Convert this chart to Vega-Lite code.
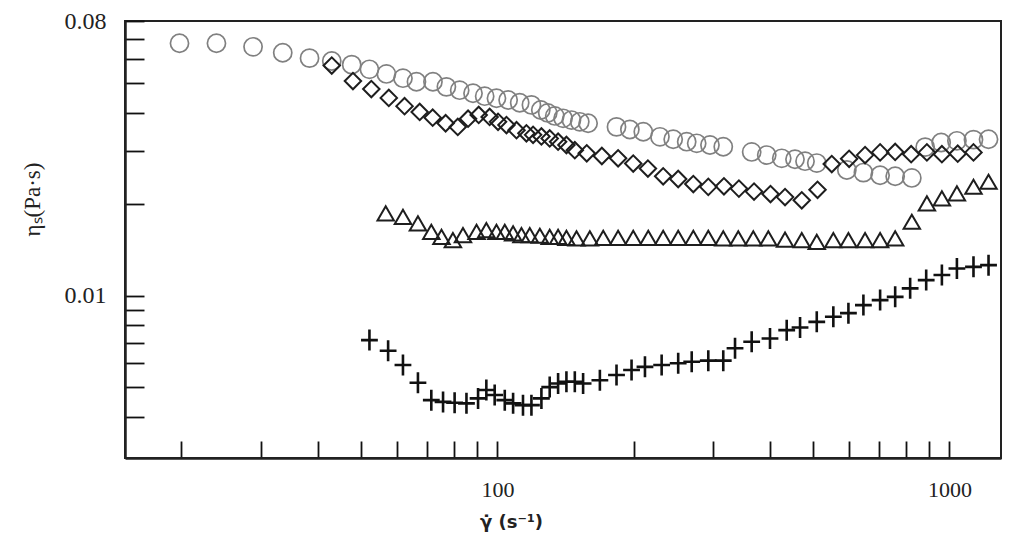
{
  "$schema": "https://vega.github.io/schema/vega-lite/v6.json",
  "width": 876,
  "height": 437,
  "autosize": {"type": "none"},
  "padding": {"left": 125, "top": 21, "right": 17, "bottom": 91},
  "background": "white",
  "config": {
    "view": {"stroke": "#222", "strokeWidth": 2},
    "axis": {"grid": false, "domainColor": "#222", "domainWidth": 2.5, "tickColor": "#111", "tickWidth": 1.8, "labelColor": "#222", "titleColor": "#222", "labelOverlap": false, "labelFlush": false}
  },
  "datasets": {
    "circles": [
      {"rate": 19.8, "eta": 0.0676}, {"rate": 23.9, "eta": 0.0676}, {"rate": 28.8, "eta": 0.0658}, {"rate": 33.5, "eta": 0.0629},
      {"rate": 38.4, "eta": 0.0604}, {"rate": 43.0, "eta": 0.0591}, {"rate": 47.6, "eta": 0.0575}, {"rate": 52.1, "eta": 0.0555},
      {"rate": 56.8, "eta": 0.0536}, {"rate": 61.8, "eta": 0.0519}, {"rate": 66.2, "eta": 0.0505}, {"rate": 72.0, "eta": 0.0505},
      {"rate": 77.1, "eta": 0.0486}, {"rate": 82.5, "eta": 0.0474}, {"rate": 88.3, "eta": 0.0463}, {"rate": 93.7, "eta": 0.0453},
      {"rate": 99.5, "eta": 0.0446}, {"rate": 105.6, "eta": 0.0440}, {"rate": 112.0, "eta": 0.0431}, {"rate": 118.9, "eta": 0.0424},
      {"rate": 124.7, "eta": 0.0408}, {"rate": 129.2, "eta": 0.0399}, {"rate": 133.9, "eta": 0.0390}, {"rate": 139.7, "eta": 0.0383},
      {"rate": 145.8, "eta": 0.0378}, {"rate": 152.1, "eta": 0.0373}, {"rate": 158.7, "eta": 0.0369}, {"rate": 183.4, "eta": 0.0359},
      {"rate": 196.3, "eta": 0.0352}, {"rate": 210.2, "eta": 0.0346}, {"rate": 228.8, "eta": 0.0333}, {"rate": 244.8, "eta": 0.0327},
      {"rate": 262.2, "eta": 0.0321}, {"rate": 275.9, "eta": 0.0317}, {"rate": 295.2, "eta": 0.0313}, {"rate": 315.9, "eta": 0.0309},
      {"rate": 365.1, "eta": 0.0297}, {"rate": 394.2, "eta": 0.0290}, {"rate": 425.5, "eta": 0.0283}, {"rate": 455.2, "eta": 0.0281},
      {"rate": 479.1, "eta": 0.0277}, {"rate": 508.6, "eta": 0.0273}, {"rate": 592.8, "eta": 0.0259}, {"rate": 645.0, "eta": 0.0254},
      {"rate": 702.3, "eta": 0.0249}, {"rate": 758.3, "eta": 0.0247}, {"rate": 825.4, "eta": 0.0244}, {"rate": 883.5, "eta": 0.0308},
      {"rate": 958.5, "eta": 0.0319}, {"rate": 1038.5, "eta": 0.0323}, {"rate": 1130, "eta": 0.0326}, {"rate": 1220, "eta": 0.0327}
    ],
    "diamonds": [
      {"rate": 43.0, "eta": 0.0571}, {"rate": 47.9, "eta": 0.0508}, {"rate": 52.6, "eta": 0.0478}, {"rate": 57.5, "eta": 0.0447},
      {"rate": 62.3, "eta": 0.0420}, {"rate": 67.3, "eta": 0.0402}, {"rate": 71.9, "eta": 0.0385}, {"rate": 76.8, "eta": 0.0369},
      {"rate": 81.7, "eta": 0.0359}, {"rate": 86.1, "eta": 0.0382}, {"rate": 90.9, "eta": 0.0393}, {"rate": 96.1, "eta": 0.0387},
      {"rate": 100.3, "eta": 0.0373}, {"rate": 104.7, "eta": 0.0364}, {"rate": 110.2, "eta": 0.0350}, {"rate": 115.9, "eta": 0.0342},
      {"rate": 119.9, "eta": 0.0338}, {"rate": 125.1, "eta": 0.0334}, {"rate": 130.5, "eta": 0.0329}, {"rate": 136.2, "eta": 0.0321},
      {"rate": 142.1, "eta": 0.0313}, {"rate": 148.3, "eta": 0.0301}, {"rate": 157.6, "eta": 0.0294}, {"rate": 170.2, "eta": 0.0288},
      {"rate": 184.9, "eta": 0.0283}, {"rate": 199.7, "eta": 0.0272}, {"rate": 215.2, "eta": 0.0262}, {"rate": 232.6, "eta": 0.0247},
      {"rate": 251.1, "eta": 0.0242}, {"rate": 271.2, "eta": 0.0233}, {"rate": 292.7, "eta": 0.0228}, {"rate": 317.0, "eta": 0.0229},
      {"rate": 342.1, "eta": 0.0225}, {"rate": 369.5, "eta": 0.0220}, {"rate": 401.8, "eta": 0.0216}, {"rate": 432.7, "eta": 0.0211},
      {"rate": 471.2, "eta": 0.0206}, {"rate": 510.6, "eta": 0.0223}, {"rate": 549.0, "eta": 0.0271}, {"rate": 599.8, "eta": 0.0282},
      {"rate": 650.5, "eta": 0.0290}, {"rate": 702.3, "eta": 0.0296}, {"rate": 758.3, "eta": 0.0297}, {"rate": 822.6, "eta": 0.0292},
      {"rate": 891.3, "eta": 0.0296}, {"rate": 962.0, "eta": 0.0292}, {"rate": 1042.8, "eta": 0.0293}, {"rate": 1130, "eta": 0.0296}
    ],
    "triangles": [
      {"rate": 56.6, "eta": 0.01866}, {"rate": 61.8, "eta": 0.01818}, {"rate": 66.7, "eta": 0.01730}, {"rate": 71.4, "eta": 0.01623},
      {"rate": 75.2, "eta": 0.01563}, {"rate": 79.7, "eta": 0.01524}, {"rate": 83.9, "eta": 0.01583}, {"rate": 89.9, "eta": 0.01623},
      {"rate": 94.5, "eta": 0.01644}, {"rate": 99.5, "eta": 0.01623}, {"rate": 103.8, "eta": 0.01623}, {"rate": 108.3, "eta": 0.01604},
      {"rate": 113.0, "eta": 0.01583}, {"rate": 117.9, "eta": 0.01583}, {"rate": 124.1, "eta": 0.01575}, {"rate": 130.5, "eta": 0.01563},
      {"rate": 136.2, "eta": 0.01563}, {"rate": 142.1, "eta": 0.01551}, {"rate": 149.6, "eta": 0.01544}, {"rate": 160.1, "eta": 0.01544},
      {"rate": 171.4, "eta": 0.01551}, {"rate": 184.9, "eta": 0.01551}, {"rate": 199.7, "eta": 0.01551}, {"rate": 215.6, "eta": 0.01551},
      {"rate": 232.6, "eta": 0.01551}, {"rate": 251.1, "eta": 0.01551}, {"rate": 271.2, "eta": 0.01551}, {"rate": 292.7, "eta": 0.01551},
      {"rate": 315.9, "eta": 0.01544}, {"rate": 341.0, "eta": 0.01544}, {"rate": 368.1, "eta": 0.01544}, {"rate": 397.4, "eta": 0.01544},
      {"rate": 432.7, "eta": 0.01530}, {"rate": 471.2, "eta": 0.01524}, {"rate": 508.6, "eta": 0.01505}, {"rate": 553.4, "eta": 0.01524},
      {"rate": 597.6, "eta": 0.01524}, {"rate": 650.5, "eta": 0.01524}, {"rate": 702.3, "eta": 0.01524}, {"rate": 758.3, "eta": 0.01544},
      {"rate": 825.4, "eta": 0.01751}, {"rate": 891.3, "eta": 0.02013}, {"rate": 962.0, "eta": 0.02090}, {"rate": 1038.5, "eta": 0.02171},
      {"rate": 1130, "eta": 0.02282}, {"rate": 1220, "eta": 0.02370}
    ],
    "crosses": [
      {"rate": 52.1, "eta": 0.00715}, {"rate": 57.3, "eta": 0.00660}, {"rate": 61.8, "eta": 0.00592}, {"rate": 66.7, "eta": 0.00518},
      {"rate": 71.4, "eta": 0.00454}, {"rate": 75.8, "eta": 0.00448}, {"rate": 80.4, "eta": 0.00445}, {"rate": 85.4, "eta": 0.00443},
      {"rate": 90.6, "eta": 0.00460}, {"rate": 94.5, "eta": 0.00490}, {"rate": 98.6, "eta": 0.00472}, {"rate": 103.8, "eta": 0.00454},
      {"rate": 108.3, "eta": 0.00443}, {"rate": 113.9, "eta": 0.00437}, {"rate": 118.9, "eta": 0.00437}, {"rate": 125.1, "eta": 0.00460},
      {"rate": 130.5, "eta": 0.00501}, {"rate": 136.2, "eta": 0.00515}, {"rate": 142.1, "eta": 0.00522}, {"rate": 148.3, "eta": 0.00522},
      {"rate": 154.7, "eta": 0.00515}, {"rate": 168.5, "eta": 0.00528}, {"rate": 183.4, "eta": 0.00549}, {"rate": 198.0, "eta": 0.00570},
      {"rate": 212.0, "eta": 0.00584}, {"rate": 230.8, "eta": 0.00592}, {"rate": 251.1, "eta": 0.00600}, {"rate": 269.0, "eta": 0.00607},
      {"rate": 292.7, "eta": 0.00612}, {"rate": 315.9, "eta": 0.00612}, {"rate": 335.4, "eta": 0.00672}, {"rate": 365.1, "eta": 0.00706},
      {"rate": 400.8, "eta": 0.00724}, {"rate": 436.4, "eta": 0.00771}, {"rate": 467.1, "eta": 0.00787}, {"rate": 508.6, "eta": 0.00821},
      {"rate": 553.4, "eta": 0.00853}, {"rate": 597.6, "eta": 0.00877}, {"rate": 645.0, "eta": 0.00932}, {"rate": 702.3, "eta": 0.00968},
      {"rate": 758.3, "eta": 0.00992}, {"rate": 818.4, "eta": 0.01058}, {"rate": 888.1, "eta": 0.01126}, {"rate": 962.0, "eta": 0.01170},
      {"rate": 1038.5, "eta": 0.01230}, {"rate": 1130, "eta": 0.01245}, {"rate": 1220, "eta": 0.01261}
    ]
  },
  "encoding": {
    "x": {
      "field": "rate", "type": "quantitative",
      "scale": {"type": "log", "domain": [15, 1300], "nice": false},
      "axis": {
        "values": [20, 30, 40, 50, 60, 70, 80, 90, 100, 200, 300, 400, 500, 600, 700, 800, 900, 1000],
        "labelExpr": "datum.value == 100 || datum.value == 1000 ? format(datum.value, 'd') : ''",
        "tickSize": -17,
        "labelPadding": 38,
        "labelFont": "Liberation Serif", "labelFontSize": 22,
        "title": "γ̇ (s⁻¹)",
        "titleFont": "DejaVu Sans", "titleFontSize": 18, "titleFontWeight": "bold",
        "titleX": 386, "titleY": 64, "titleBaseline": "middle", "titleAlign": "center"
      }
    },
    "y": {
      "field": "eta", "type": "quantitative",
      "scale": {"type": "log", "domain": [0.00293, 0.08], "nice": false},
      "axis": {
        "values": [0.004, 0.005, 0.006, 0.007, 0.008, 0.009, 0.01, 0.02, 0.03, 0.04, 0.05, 0.06, 0.07, 0.08],
        "labelExpr": "datum.value == 0.01 || datum.value == 0.08 ? format(datum.value, '.2f') : ''",
        "tickSize": -19,
        "labelPadding": 38,
        "labelFont": "Liberation Serif", "labelFontSize": 24,
        "title": "ηₛ(Pa·s)",
        "titleFont": "Liberation Serif", "titleFontSize": 23, "titleFontWeight": "normal",
        "titleX": -93, "titleY": 178, "titleBaseline": "middle", "titleAlign": "center", "titleAngle": -90
      }
    }
  },
  "layer": [
    {"data": {"name": "circles"}, "mark": {"type": "point", "shape": "circle", "filled": false, "stroke": "#808080", "strokeWidth": 1.7, "size": 330, "opacity": 1}},
    {"data": {"name": "diamonds"}, "mark": {"type": "point", "shape": "diamond", "filled": false, "stroke": "#1e1e1e", "strokeWidth": 2, "size": 270, "opacity": 1}},
    {"data": {"name": "triangles"}, "mark": {"type": "point", "shape": "triangle-up", "filled": false, "stroke": "#1e1e1e", "strokeWidth": 2, "size": 270, "opacity": 1}},
    {"data": {"name": "crosses"}, "mark": {"type": "point", "shape": "M-0.8,0H0.8M0,-1V1", "filled": false, "stroke": "#111", "strokeWidth": 2.6, "size": 441, "opacity": 1}}
  ]
}
